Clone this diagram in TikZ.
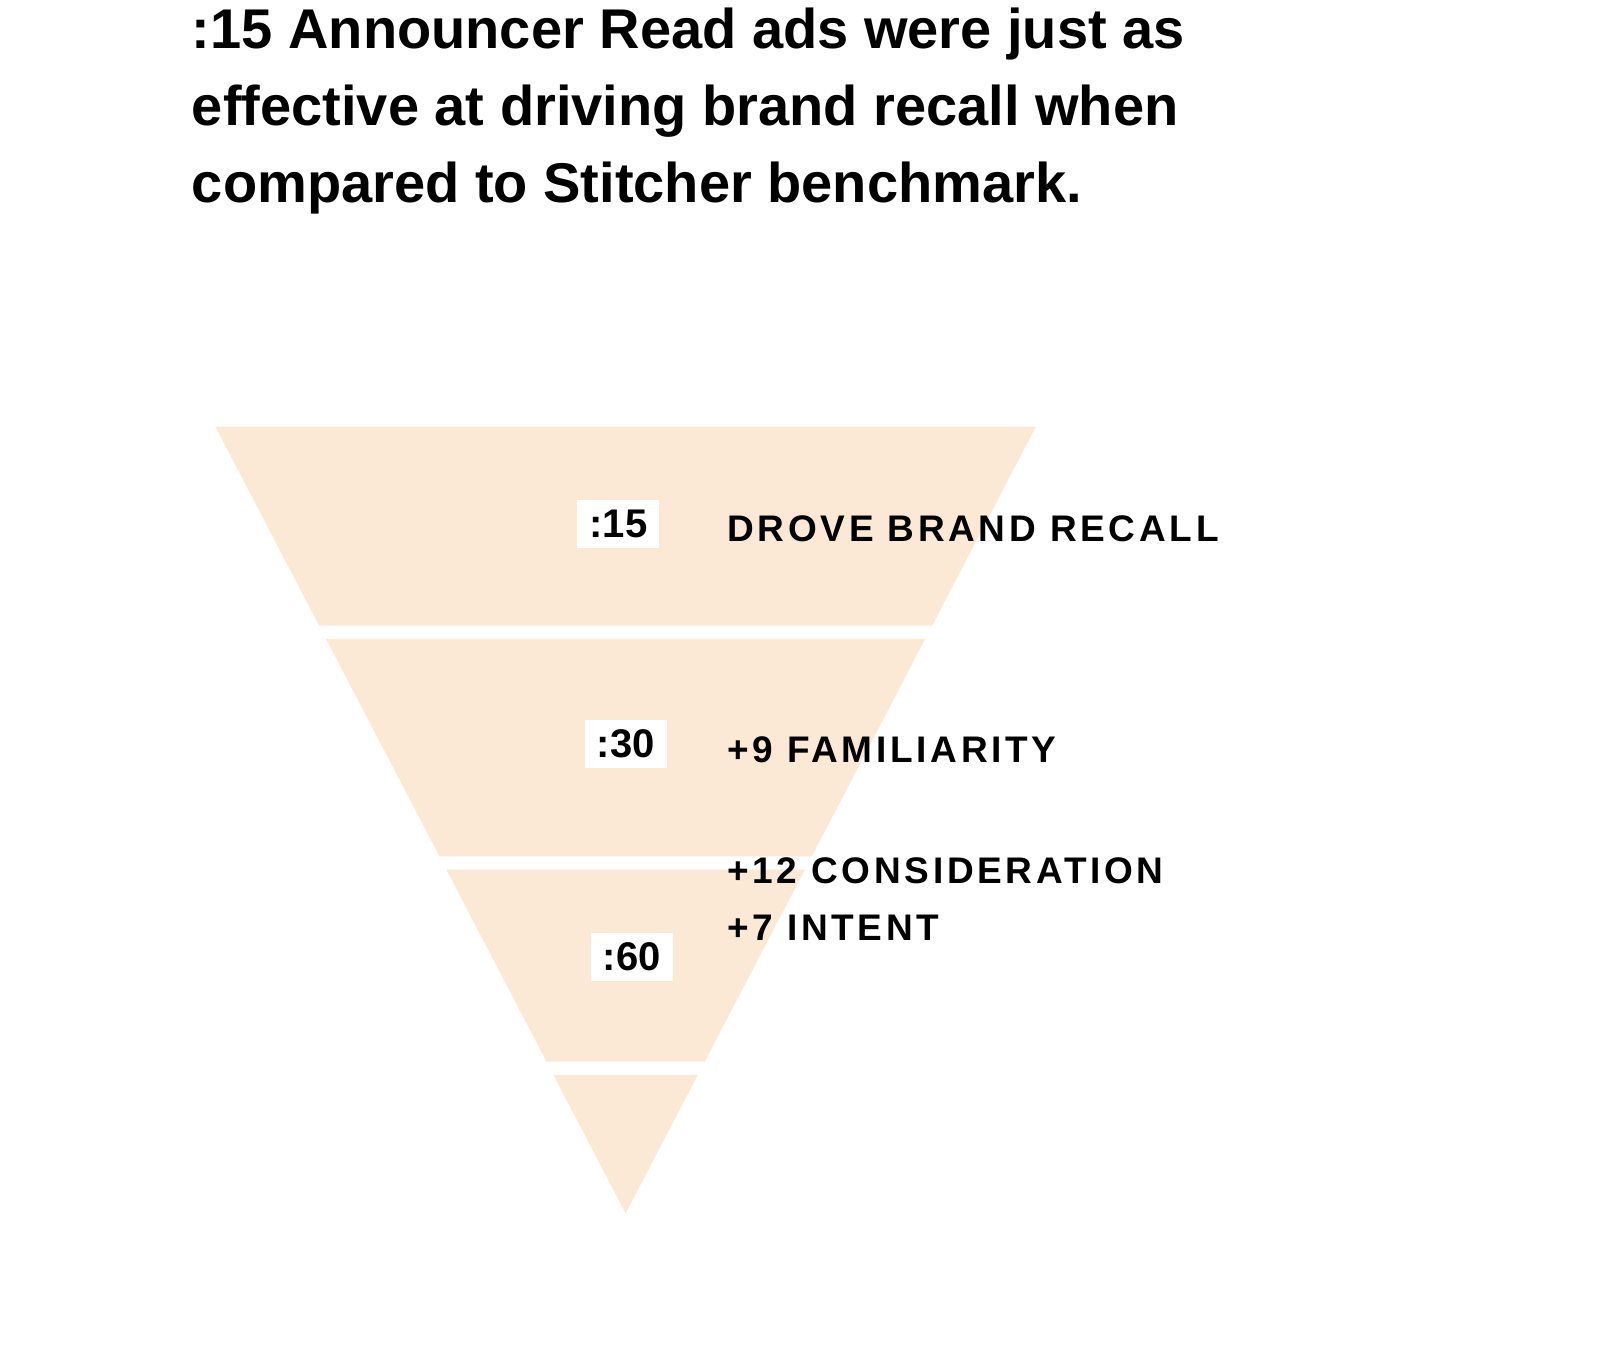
\documentclass[tikz,border=0pt]{standalone}
\usepackage{fontspec}
\setmainfont{Liberation Sans}
\newfontfamily\spaced[LetterSpace=10]{Liberation Sans}
\definecolor{funnel}{HTML}{FCE9D5}
\begin{document}
\begin{tikzpicture}[x=1.0256pt,y=-1.0256pt,
  band/.style={fill=funnel,draw=none},
  numbox/.style={fill=white,inner sep=0pt,minimum width=82pt,minimum height=48pt,font=\fontsize{40}{42}\selectfont\bfseries},
  lab/.style={anchor=base west,inner sep=0pt,font=\fontsize{37}{57}\spaced\bfseries,align=left}]
\useasboundingbox (0,0) rectangle (1560,1316);
\def\hw#1{(0.52151*(1183-#1))}
\fill[band] ({610-\hw{416}},416) -- ({610+\hw{416}},416) -- ({610+\hw{610}},610) -- ({610-\hw{610}},610) -- cycle;
\fill[band] ({610-\hw{623}},623) -- ({610+\hw{623}},623) -- ({610+\hw{835}},835) -- ({610-\hw{835}},835) -- cycle;
\fill[band] ({610-\hw{848}},848) -- ({610+\hw{848}},848) -- ({610+\hw{1035}},1035) -- ({610-\hw{1035}},1035) -- cycle;
\fill[band] ({610-\hw{1048}},1048) -- ({610+\hw{1048}},1048) -- (610,1183) -- cycle;
\node[anchor=base west,inner sep=0pt,align=left,font=\fontsize{56}{77}\selectfont\bfseries] (title) at (187,197)
 {:15 Announcer Read ads were just as\\effective at driving brand recall when\\compared to Stitcher benchmark.};
\node[numbox] (n1) at (603,511) {:15};
\node[numbox] (n2) at (610,725) {:30};
\node[numbox] (n3) at (616,933) {:60};
\node[lab] (l1) at (709,528) {DROVE BRAND RECALL};
\node[lab] (l2) at (709,743) {+9 FAMILIARITY};
\node[lab] (l3) at (709,917) {+12 CONSIDERATION\\+7 INTENT};
\end{tikzpicture}
\end{document}
